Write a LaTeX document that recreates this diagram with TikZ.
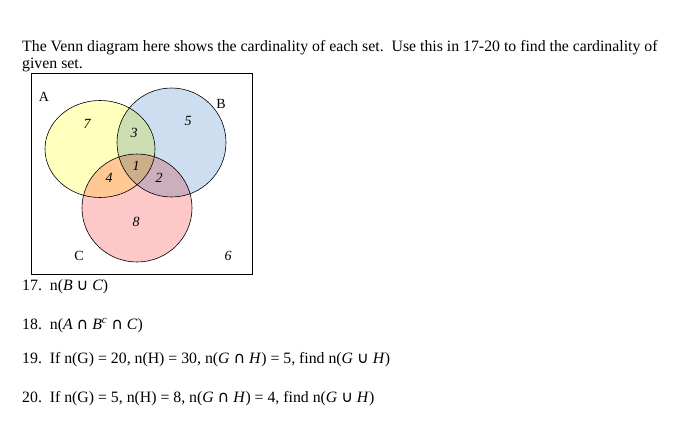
\documentclass[tikz,border=0pt]{standalone}
\usepackage{fontspec}
\setmainfont{Liberation Serif}
\newfontfamily\symf{DejaVu Sans}
\newcommand{\cupx}{{\symf\fontsize{16}{17}\selectfont ∪}}
\newcommand{\capx}{{\symf\fontsize{16}{17}\selectfont ∩}}
\begin{document}
\begin{tikzpicture}[x=1pt,y=-1pt,
  txt/.style={anchor=base west,inner sep=0pt,font=\fontsize{15.8}{18}\selectfont},
  num/.style={inner sep=0pt,font=\fontsize{14}{15}\selectfont\itshape},
  lbl/.style={inner sep=0pt,font=\fontsize{14}{15}\selectfont},
  circ/.style={draw=black,line width=0.6pt}]
\useasboundingbox (0,0) rectangle (682,420);
\definecolor{cA}{RGB}{255,255,190}
\definecolor{cB}{RGB}{204,222,240}
\definecolor{cC}{RGB}{255,200,200}
\node[txt] (t1) at (22,52) {The Venn diagram here shows the cardinality of each set.\ \ Use this in 17-20 to find the cardinality of};
\node[txt] (t2) at (22,68) {given set.};
\draw[line width=0.8pt] (31,73) rectangle (252,274);
\begin{scope}[blend group=multiply]
\fill[cA] (100,149) ellipse [x radius=55, y radius=48.5];
\fill[cB] (171.5,142.5) circle [radius=54.5];
\fill[cC] (137,208) ellipse [x radius=55, y radius=54];
\end{scope}
\draw[circ] (100,149) ellipse [x radius=55, y radius=48.5];
\draw[circ] (171.5,142.5) circle [radius=54.5];
\draw[circ] (137,208) ellipse [x radius=55, y radius=54];
\node[lbl] (A) at (44,97) {A};
\node[lbl] (B) at (221,104) {B};
\node[lbl] (C) at (79,256) {C};
\node[num] (n7) at (87,124) {7};
\node[num] (n3) at (134,133) {3};
\node[num] (n5) at (188,121) {5};
\node[num] (n1) at (136,166) {1};
\node[num] (n4) at (109,178) {4};
\node[num] (n2) at (159,178) {2};
\node[num] (n8) at (136,222) {8};
\node[num] (n6) at (228,256) {6};
\node[txt] (q17) at (22,290) {17.\ \ n(\textit{B} \cupx{} \textit{C})};
\node[txt] (q18) at (22,329) {18.\ \ n(\textit{A} \capx{} \textit{B}\textsuperscript{\textit{c}} \capx{} \textit{C})};
\node[txt] (q19) at (22,363) {19.\ \ If n(G) = 20, n(H) = 30, n(\textit{G} \capx{} \textit{H}) = 5, find n(\textit{G} \cupx{} \textit{H})};
\node[txt] (q20) at (22,402) {20.\ \ If n(G) = 5, n(H) = 8, n(\textit{G} \capx{} \textit{H}) = 4, find n(\textit{G} \cupx{} \textit{H})};
\end{tikzpicture}
\end{document}
